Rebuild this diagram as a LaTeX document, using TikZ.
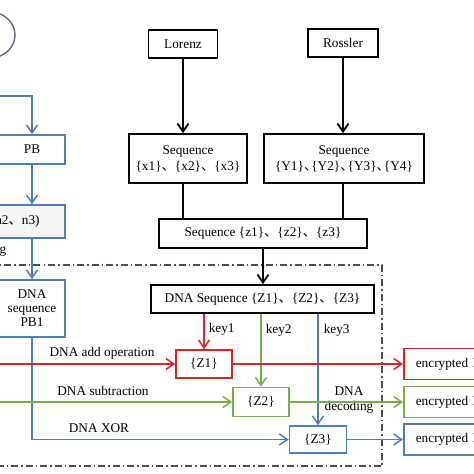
\documentclass[tikz,border=0pt]{standalone}
\usepackage{fontspec}
\setmainfont{Liberation Serif}
\newfontfamily\cjk{Noto Sans CJK SC}
\usetikzlibrary{arrows.meta,shapes.geometric}
\definecolor{encred}{RGB}{218,37,40}
\definecolor{encgreen}{RGB}{122,175,72}
\definecolor{encblue}{RGB}{79,124,186}
\definecolor{framegray}{RGB}{70,80,90}
\definecolor{startcol}{RGB}{105,100,140}
\newcommand{\dunhao}{{\cjk 、}}
\newcommand{\halfdun}{{\cjk 、}\hspace{-6pt}}

\begin{document}
\begin{tikzpicture}[x=1pt, y=-1pt,
    font=\fontsize{13.3}{16}\selectfont,
    >={Straight Barb[length=8pt,width=11pt]},
    blackbox/.style={draw, line width=1.7pt, inner sep=0pt, align=center},
    colbox/.style={draw=#1, line width=1.6pt, inner sep=0pt, align=center},
    blackline/.style={draw, line width=1.8pt},
    colline/.style={draw=#1, line width=1.5pt},
    encbox/.style={colbox=#1, anchor=west, minimum height=31, text width=70,
        inner xsep=12pt, align=left}]

    \useasboundingbox (0,0) rectangle (474,474);

    \node[ellipse, draw=startcol, line width=1.4pt, minimum width=50,
        minimum height=46] (start) at (-10,35) {};
    \node[colbox=encblue, minimum width=66, minimum height=29] (pb) at (32,149.5) {PB};
    \node[colbox=encblue, fill=gray!8, minimum width=126, minimum height=33] (nseq)
        at (2,221.5) {(n1\dunhao n2\dunhao n3)};
    \node[colbox=encblue, minimum width=66, minimum height=57,
        font=\fontsize{13.3}{14}\selectfont] (pb1) at (32,308.5) {DNA\\sequence\\PB1};
    \node (cutlbl) at (3,252) {g};

    \node[blackbox, minimum width=69, minimum height=28] (lorenz) at (183,44) {Lorenz};
    \node[blackbox, minimum width=70, minimum height=28] (rossler) at (343,43) {Rossler};
    \node[blackbox, minimum width=118, minimum height=49] (seqx) at (188,158.5)
        {Sequence\\\{x1\}\dunhao\{x2\}\dunhao\{x3\}};
    \node[blackbox, minimum width=160, minimum height=49] (seqy) at (344,158.5)
        {Sequence\\\{Y1\}\halfdun\{Y2\}\halfdun\{Y3\}\halfdun\{Y4\}};
    \node[blackbox, minimum width=208, minimum height=29] (seqz) at (263,233.5)
        {Sequence \{z1\}\dunhao\{z2\}\dunhao\{z3\}};
    \node[blackbox, minimum width=223, minimum height=28] (dnaseq) at (262.5,299)
        {DNA Sequence \{Z1\}\dunhao\{Z2\}\dunhao\{Z3\}};

    \draw[framegray, line width=1.3pt, dash pattern=on 7pt off 3pt on 1.5pt off 3pt]
        (-20,265) rectangle (382,466);

    \node[colbox=encred, minimum width=56, minimum height=28] (z1) at (204,364) {\{Z1\}};
    \node[colbox=encgreen, minimum width=56, minimum height=29] (z2) at (261,402) {\{Z2\}};
    \node[colbox=encblue, minimum width=57, minimum height=27] (z3) at (318,439.5) {\{Z3\}};

    \node[encbox=encred] (encr) at (403,364) {encrypted I};
    \node[encbox=encgreen] (encg) at (403,402) {encrypted I};
    \node[encbox=encblue] (encb) at (403,439.5) {encrypted I};

    \node (addlbl) at (102,353) {DNA add operation};
    \node (sublbl) at (103,391) {DNA subtraction};
    \node (xorlbl) at (99,428) {DNA XOR};
    \node[align=center, font=\fontsize{13.3}{14.5}\selectfont] (declbl) at (349,400) {DNA\\decoding};

    \coordinate (bluein) at (-5,96);
    \coordinate (redin) at (-5,364);
    \coordinate (greenin) at (-5,402);

    \draw[colline=encblue, ->] (bluein) -| (pb.north);
    \draw[colline=encblue, ->] (pb.south) -- (nseq.north -| pb.south);
    \draw[colline=encblue, ->] (nseq.south -| pb1.north) -- (pb1.north);
    \draw[colline=encblue, ->] (pb1.south) |- (z3.west);
    \draw[colline=encred, ->] (redin) -- (z1.west);
    \draw[colline=encgreen, ->] (greenin) -- (z2.west);

    \draw[blackline, ->] (lorenz.south) -- (lorenz |- seqx.north);
    \draw[blackline] (lorenz |- seqx.south) -- (lorenz |- seqz.north);
    \draw[blackline, ->] (rossler.south) -- (rossler |- seqy.north);
    \draw[blackline] (rossler |- seqy.south) -- (rossler |- seqz.north);
    \draw[blackline, ->] (seqz.south) -- (seqz.south |- dnaseq.north);

    \draw[colline=encred, ->] (z1 |- dnaseq.south) -- node[right, pos=0.45, inner sep=4pt] {key1} (z1.north);
    \draw[colline=encgreen, ->] (z2 |- dnaseq.south) -- node[right, pos=0.23, inner sep=4pt] {key2} (z2.north);
    \draw[colline=encblue, ->] (z3 |- dnaseq.south) -- node[right, pos=0.15, inner sep=5pt] {key3} (z3.north);

    \draw[colline=encred, ->] (z1.east) -- (encr.west);
    \draw[colline=encgreen, ->] (z2.east) -- (encg.west);
    \draw[colline=encblue, ->] (z3.east) -- (encb.west);
\end{tikzpicture}
\end{document}
